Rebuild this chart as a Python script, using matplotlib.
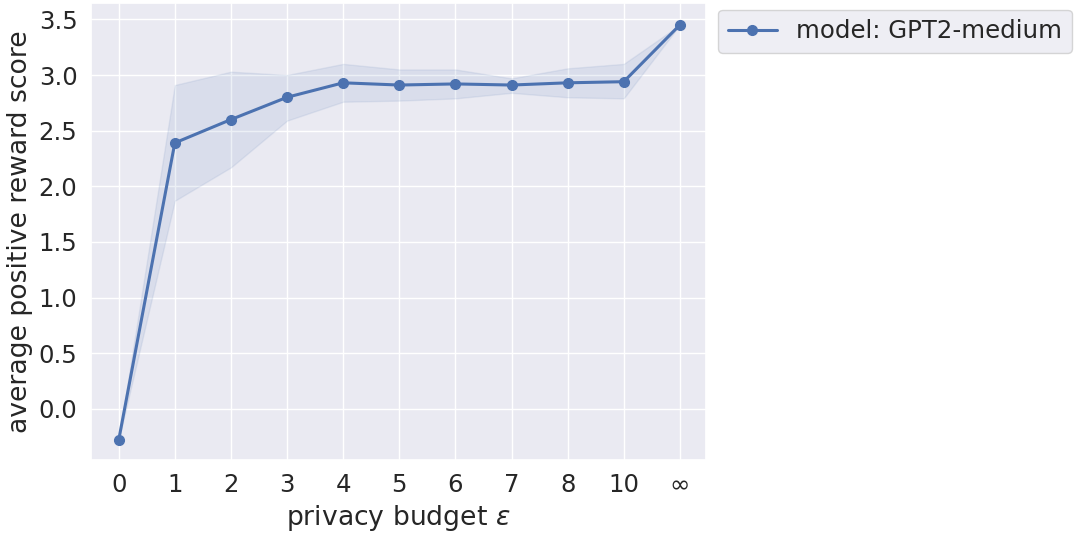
import matplotlib
matplotlib.use("Agg")
import matplotlib.pyplot as plt
import seaborn as sns
import numpy as np

sns.set_theme(style="darkgrid", font_scale=1.6)
labels = ["0", "1", "2", "3", "4", "5", "6", "7", "8", "10", "∞"]
mean = [-0.28, 2.39, 2.60, 2.80, 2.93, 2.91, 2.92, 2.91, 2.93, 2.94, 3.45]
upper = [-0.28, 2.91, 3.03, 3.00, 3.10, 3.05, 3.05, 2.97, 3.06, 3.10, 3.45]
lower = [-0.28, 1.87, 2.17, 2.59, 2.76, 2.77, 2.79, 2.84, 2.80, 2.79, 3.45]

fig = plt.figure(figsize=(10.79, 5.35), dpi=100)
ax = fig.add_axes([0.084, 0.14, 0.57, 0.855])
x = np.arange(len(labels))
c = sns.color_palette()[0]
ax.fill_between(x, lower, upper, color=c, alpha=0.1)
ax.plot(x, mean, marker="o", color=c, lw=2.2, ms=7, label="model: GPT2-medium")
ax.set_xticks(x)
ax.set_xticklabels(labels)
ax.set_ylim(-0.46, 3.65)
ax.set_xlim(-0.5, 10.46)
ax.set_yticks([0, 0.5, 1, 1.5, 2, 2.5, 3, 3.5])
ax.set_xlabel("privacy budget $\\epsilon$")
ax.set_ylabel("average positive reward score")
ax.legend(loc="upper left", bbox_to_anchor=(1.02, 0.985), borderaxespad=0)
fig.savefig("out.png", dpi=100)
